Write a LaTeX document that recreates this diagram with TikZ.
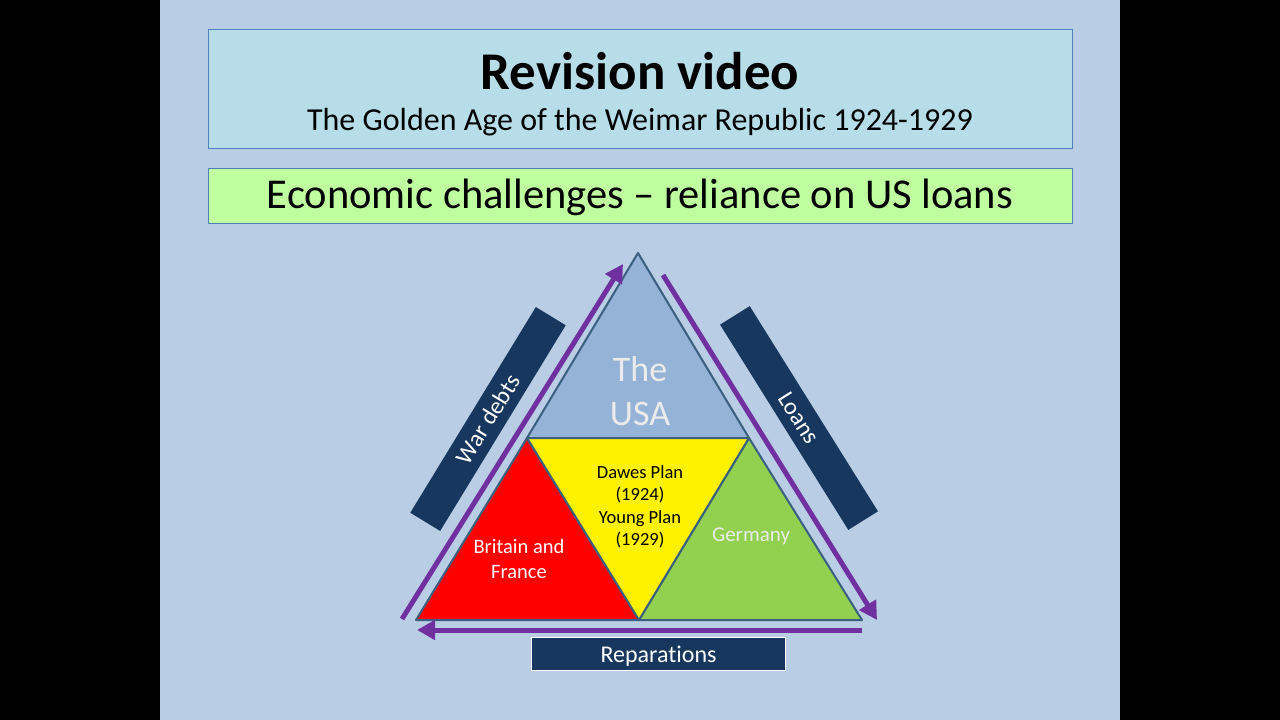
\documentclass[tikz,border=0pt]{standalone}
\usepackage{fontspec}
\setmainfont[Ligatures={TeX,NoCommon}]{Carlito}
\usetikzlibrary{arrows.meta}
\definecolor{bgc}{HTML}{B9CDE5}
\definecolor{titlefill}{HTML}{B7DEE8}
\definecolor{greenfill}{HTML}{C0FFA0}
\definecolor{boxline}{HTML}{4F81BD}
\definecolor{usafill}{HTML}{95B3D7}
\definecolor{gerfill}{HTML}{92D050}
\definecolor{triline}{HTML}{3A5F7F}
\definecolor{navy}{HTML}{17375E}
\definecolor{purp}{HTML}{7030A0}
\definecolor{lighttxt}{HTML}{EBEBEB}
\tikzset{
  headbox/.style={draw=boxline, line width=1pt, minimum width=864pt, inner sep=0pt},
  tri/.style={draw=triline, line width=2pt, line join=round},
  darkbox/.style={fill=navy, inner sep=0pt, text=white, font=\fontsize{24}{28}\selectfont},
  flow/.style={draw=purp, line width=5pt, -{Triangle[length=18pt,width=19pt]}},
  midtxt/.style={align=center, font=\fontsize{18.5}{22.5}\selectfont}
}
\begin{document}
\begin{tikzpicture}[x=1pt,y=-1pt]
\useasboundingbox (0,0) rectangle (1280,720);
\fill[black] (0,0) rectangle (1280,720);
\fill[bgc] (160,0) rectangle (1120,720);
% header boxes
\node[headbox, fill=titlefill, minimum height=119pt] (hdr) at (640,88.5) {};
\node[font=\fontsize{53}{58}\selectfont\bfseries] (title) at (640,71) {Revision video};
\node[font=\fontsize{32}{36}\selectfont] (sub) at (640,122) {The Golden Age of the Weimar Republic 1924-1929};
\node[headbox, fill=greenfill, minimum height=55pt] (econ) at (640,195.5) {};
\node[font=\fontsize{42.5}{46}\selectfont] (econtxt) at (640,197) {Economic challenges – reliance on US loans};
% triangle
\coordinate (A) at (638,253);
\coordinate (BL) at (416,620);
\coordinate (BR) at (862,620);
\coordinate (ML) at (527,438);
\coordinate (MR) at (749,438);
\coordinate (MB) at (639,620);
\filldraw[tri, fill=usafill] (A) -- (MR) -- (ML) -- cycle;
\filldraw[tri, fill=red] (ML) -- (MB) -- (BL) -- cycle;
\filldraw[tri, fill=gerfill] (MR) -- (BR) -- (MB) -- cycle;
\filldraw[tri, fill=yellow] (ML) -- (MR) -- (MB) -- cycle;
\node[align=center, text=lighttxt, font=\fontsize{36}{44}\selectfont] (usa) at (640,391) {The\\USA};
\node[midtxt] (plans) at (640,507) {Dawes Plan\\(1924)\\Young Plan\\(1929)};
\node[align=center, text=white, font=\fontsize{20.5}{25}\selectfont] (bf) at (519,559) {Britain and\\France};
\node[text=lighttxt, font=\fontsize{21}{25}\selectfont] (ger) at (751,536) {Germany};
% labels
\node[darkbox, minimum width=241pt, minimum height=35pt, rotate=58.6] (war) at (488,419) {War debts};
\node[darkbox, minimum width=242pt, minimum height=35pt, rotate=-58.0] (loans) at (799,418) {Loans};
\node[darkbox, draw=white, line width=0.8pt, minimum width=254pt, minimum height=33pt] (rep) at (658.5,653.5) {};
\node[text=white, font=\fontsize{24}{28}\selectfont] (reptxt) at (658.5,656) {Reparations};
% arrows
\coordinate (w1) at (402,619);
\coordinate (w2) at (623,264);
\coordinate (l1) at (663,275);
\coordinate (l2) at (877,620);
\coordinate (r1) at (862,630);
\coordinate (r2) at (417,630);
\draw[flow] (w1) -- (w2);
\draw[flow] (l1) -- (l2);
\draw[flow] (r1) -- (r2);
\end{tikzpicture}
\end{document}
